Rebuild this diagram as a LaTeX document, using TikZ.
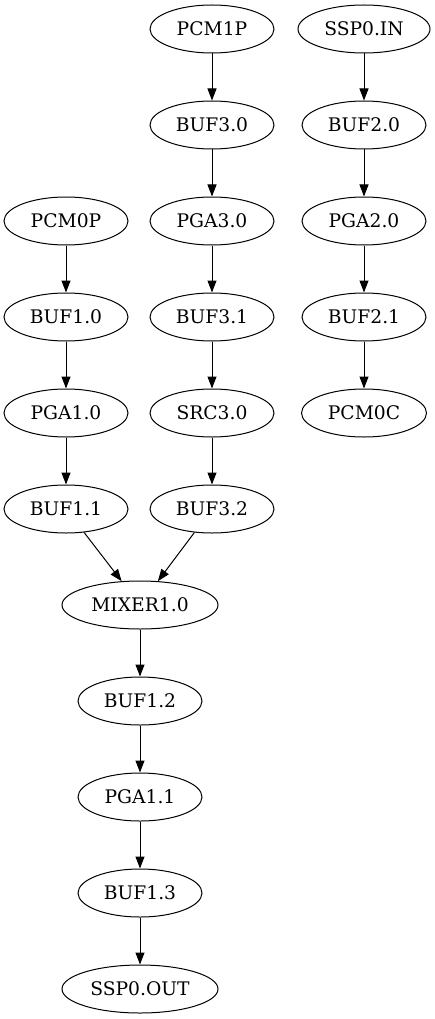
\documentclass[tikz,border=0pt]{standalone}
\usepackage{fontspec}
\setmainfont{DejaVu Serif}
\usetikzlibrary{shapes.geometric,arrows.meta}
\begin{document}
\begin{tikzpicture}[x=1pt,y=-1pt,
  gnode/.style={draw,ellipse,line width=1pt,minimum width=124pt,minimum height=48pt,inner sep=0pt,font=\fontsize{18.7}{20}\selectfont},
  edge/.style={draw,line width=1pt,-{Triangle[length=12pt,width=9pt]}}]
\useasboundingbox (0,0) rectangle (435,1019);
% middle column
\node[gnode] (pcm1p) at (212,29) {PCM1P};
\node[gnode] (buf30) at (212,125) {BUF3.0};
\node[gnode] (pga30) at (212,221) {PGA3.0};
\node[gnode] (buf31) at (212,317) {BUF3.1};
\node[gnode] (src30) at (212,413) {SRC3.0};
\node[gnode] (buf32) at (212,509) {BUF3.2};
% right column
\node[gnode,minimum width=132pt] (sspin) at (364,29) {SSP0.IN};
\node[gnode] (buf20) at (364,125) {BUF2.0};
\node[gnode] (pga20) at (364,221) {PGA2.0};
\node[gnode] (buf21) at (364,317) {BUF2.1};
\node[gnode,minimum width=125pt] (pcm0c) at (364,413) {PCM0C};
% left column
\node[gnode] (pcm0p) at (66,221) {PCM0P};
\node[gnode] (buf10) at (66,317) {BUF1.0};
\node[gnode] (pga10) at (66,413) {PGA1.0};
\node[gnode] (buf11) at (66,509) {BUF1.1};
% bottom column
\node[gnode,minimum width=156pt] (mixer) at (140,605) {MIXER1.0};
\node[gnode] (buf12) at (140,701) {BUF1.2};
\node[gnode] (pga11) at (140,797) {PGA1.1};
\node[gnode] (buf13) at (140,893) {BUF1.3};
\node[gnode,minimum width=156pt] (sspout) at (140,989) {SSP0.OUT};
% edges
\draw[edge] (pcm1p) -- (buf30);
\draw[edge] (buf30) -- (pga30);
\draw[edge] (pga30) -- (buf31);
\draw[edge] (buf31) -- (src30);
\draw[edge] (src30) -- (buf32);
\draw[edge] (buf32) -- (mixer);
\draw[edge] (sspin) -- (buf20);
\draw[edge] (buf20) -- (pga20);
\draw[edge] (pga20) -- (buf21);
\draw[edge] (buf21) -- (pcm0c);
\draw[edge] (pcm0p) -- (buf10);
\draw[edge] (buf10) -- (pga10);
\draw[edge] (pga10) -- (buf11);
\draw[edge] (buf11) -- (mixer);
\draw[edge] (mixer) -- (buf12);
\draw[edge] (buf12) -- (pga11);
\draw[edge] (pga11) -- (buf13);
\draw[edge] (buf13) -- (sspout);
\end{tikzpicture}
\end{document}
